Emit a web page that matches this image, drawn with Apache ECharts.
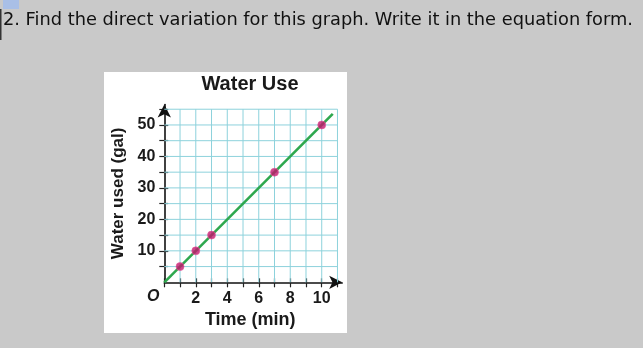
<!DOCTYPE html>
<html><head><meta charset="utf-8">
<script src="https://cdn.jsdelivr.net/npm/echarts@6/dist/echarts.min.js"></script>
<style>html,body{margin:0;padding:0;background:#c9c9c9}#c{width:643px;height:348px}</style>
</head><body><div id="c"></div>
<script>
const headerText = "2. Find the direct variation for this graph. Write it in the equation form.";
const chartTitle = "Water Use";
const xName = "Time (min)";
const yName = "Water used (gal)";
const pointsX = [1, 2, 3, 7, 10];
const pointsY = [5, 10, 15, 35, 50];
const lineX = [0, 10.7];
const lineY = [0, 53.5];
const xTicks = [0,1,2,3,4,5,6,7,8,9,10,11];
const xLabels = [2,4,6,8,10];
const yTicks = [5,10,15,20,25,30,35,40,45,50,55];
const yLabels = [10,20,30,40,50];
const gridXs = [1,2,3,4,5,6,7,8,9,10,11];
const gridYs = [5,10,15,20,25,30,35,40,45,50,55];
const gridXMax = 11, gridYMax = 55;

const chart = echarts.init(document.getElementById('c'), null, {renderer:'canvas'});
const labelFont = {color:'#1a1a1a', fontWeight:'bold', fontSize:16, fontFamily:'Liberation Sans'};
const option = {
  backgroundColor:'#c9c9c9',
  animation:false,
  graphic:[
    {type:'rect', shape:{x:104,y:72,width:243,height:261}, style:{fill:'#ffffff'}, z:-10},
    {type:'rect', shape:{x:3,y:0,width:16,height:9}, style:{fill:'#a9bfe6'}, z:-10},
    {type:'rect', shape:{x:0,y:9,width:1.5,height:31}, style:{fill:'#333'}, z:-10},
    {type:'text', left:3, top:11, style:{text:headerText, font:'17.8px "DejaVu Sans"', fill:'#111'}},
    {type:'text', left:147, top:289, style:{text:'O', font:'italic bold 16px "Liberation Sans"', fill:'#1a1a1a'}}
  ],
  title:{text:chartTitle, left:250, top:74, textAlign:'center',
    textStyle:{fontFamily:'Liberation Sans', fontWeight:'bold', fontSize:20, color:'#1a1a1a'}, padding:0},
  grid:{left:164.3, right:300.8, top:104.5, bottom:65.7, containLabel:false},
  xAxis:[
    {type:'value', min:0, max:11.3,
     name:xName, nameLocation:'middle', nameGap:27,
     nameTextStyle:{fontFamily:'Liberation Sans', fontWeight:'bold', fontSize:18, color:'#1a1a1a', padding:[0,6,0,0]},
     axisLine:{show:true, lineStyle:{color:'#111', width:1.6}, symbol:['none','arrow'], symbolSize:[10,13]},
     axisTick:{show:true, customValues:xTicks, length:5, lineStyle:{color:'#222', width:1.2}},
     axisLabel:{customValues:xLabels, margin:8, ...labelFont},
     splitLine:{show:false}},
    {type:'value', min:0, max:11.3, position:'bottom',
     axisLine:{show:false},
     axisTick:{show:true, inside:true, customValues:xTicks, length:4, lineStyle:{color:'#222', width:1.2}},
     axisLabel:{show:false}, splitLine:{show:false}}
  ],
  yAxis:[
    {type:'value', min:0, max:56.5,
     name:yName, nameLocation:'middle', nameGap:37, nameRotate:90,
     nameTextStyle:{fontFamily:'Liberation Sans', fontWeight:'bold', fontSize:17, color:'#1a1a1a'},
     axisLine:{show:true, lineStyle:{color:'#111', width:1.6}, symbol:['none','arrow'], symbolSize:[10,13]},
     axisTick:{show:true, customValues:yTicks, length:5, lineStyle:{color:'#222', width:1.2}},
     axisLabel:{customValues:yLabels, margin:9, ...labelFont},
     splitLine:{show:false}},
    {type:'value', min:0, max:56.5, position:'left',
     axisLine:{show:false},
     axisTick:{show:true, inside:true, customValues:yTicks, length:4, lineStyle:{color:'#222', width:1.2}},
     axisLabel:{show:false}, splitLine:{show:false}}
  ],
  series:[
    {type:'custom', z:1, silent:true,
     data:gridXs.map(v=>[v]),
     renderItem:function(params, api){
       const v = api.value(0);
       const p0 = api.coord([v,0]), p1 = api.coord([v,gridYMax]);
       return {type:'line', shape:{x1:p0[0],y1:p0[1],x2:p1[0],y2:p1[1]}, style:{stroke:'#8dd2dc', lineWidth:1}};
     }},
    {type:'custom', z:1, silent:true,
     data:gridYs.map(v=>[v]),
     renderItem:function(params, api){
       const v = api.value(0);
       const p0 = api.coord([0,v]), p1 = api.coord([gridXMax,v]);
       return {type:'line', shape:{x1:p0[0],y1:p0[1],x2:p1[0],y2:p1[1]}, style:{stroke:'#8dd2dc', lineWidth:1}};
     }},
    {type:'line', z:3, data:lineX.map((x,i)=>[x,lineY[i]]), showSymbol:false, symbol:'none',
     lineStyle:{color:'#2ea84e', width:2.6}},
    {type:'scatter', z:4, data:pointsX.map((x,i)=>[x,pointsY[i]]), symbolSize:8,
     itemStyle:{color:'#c2176b', borderColor:'#e45a9a', borderWidth:0.8}}
  ]
};
chart.setOption(option);
</script></body></html>
